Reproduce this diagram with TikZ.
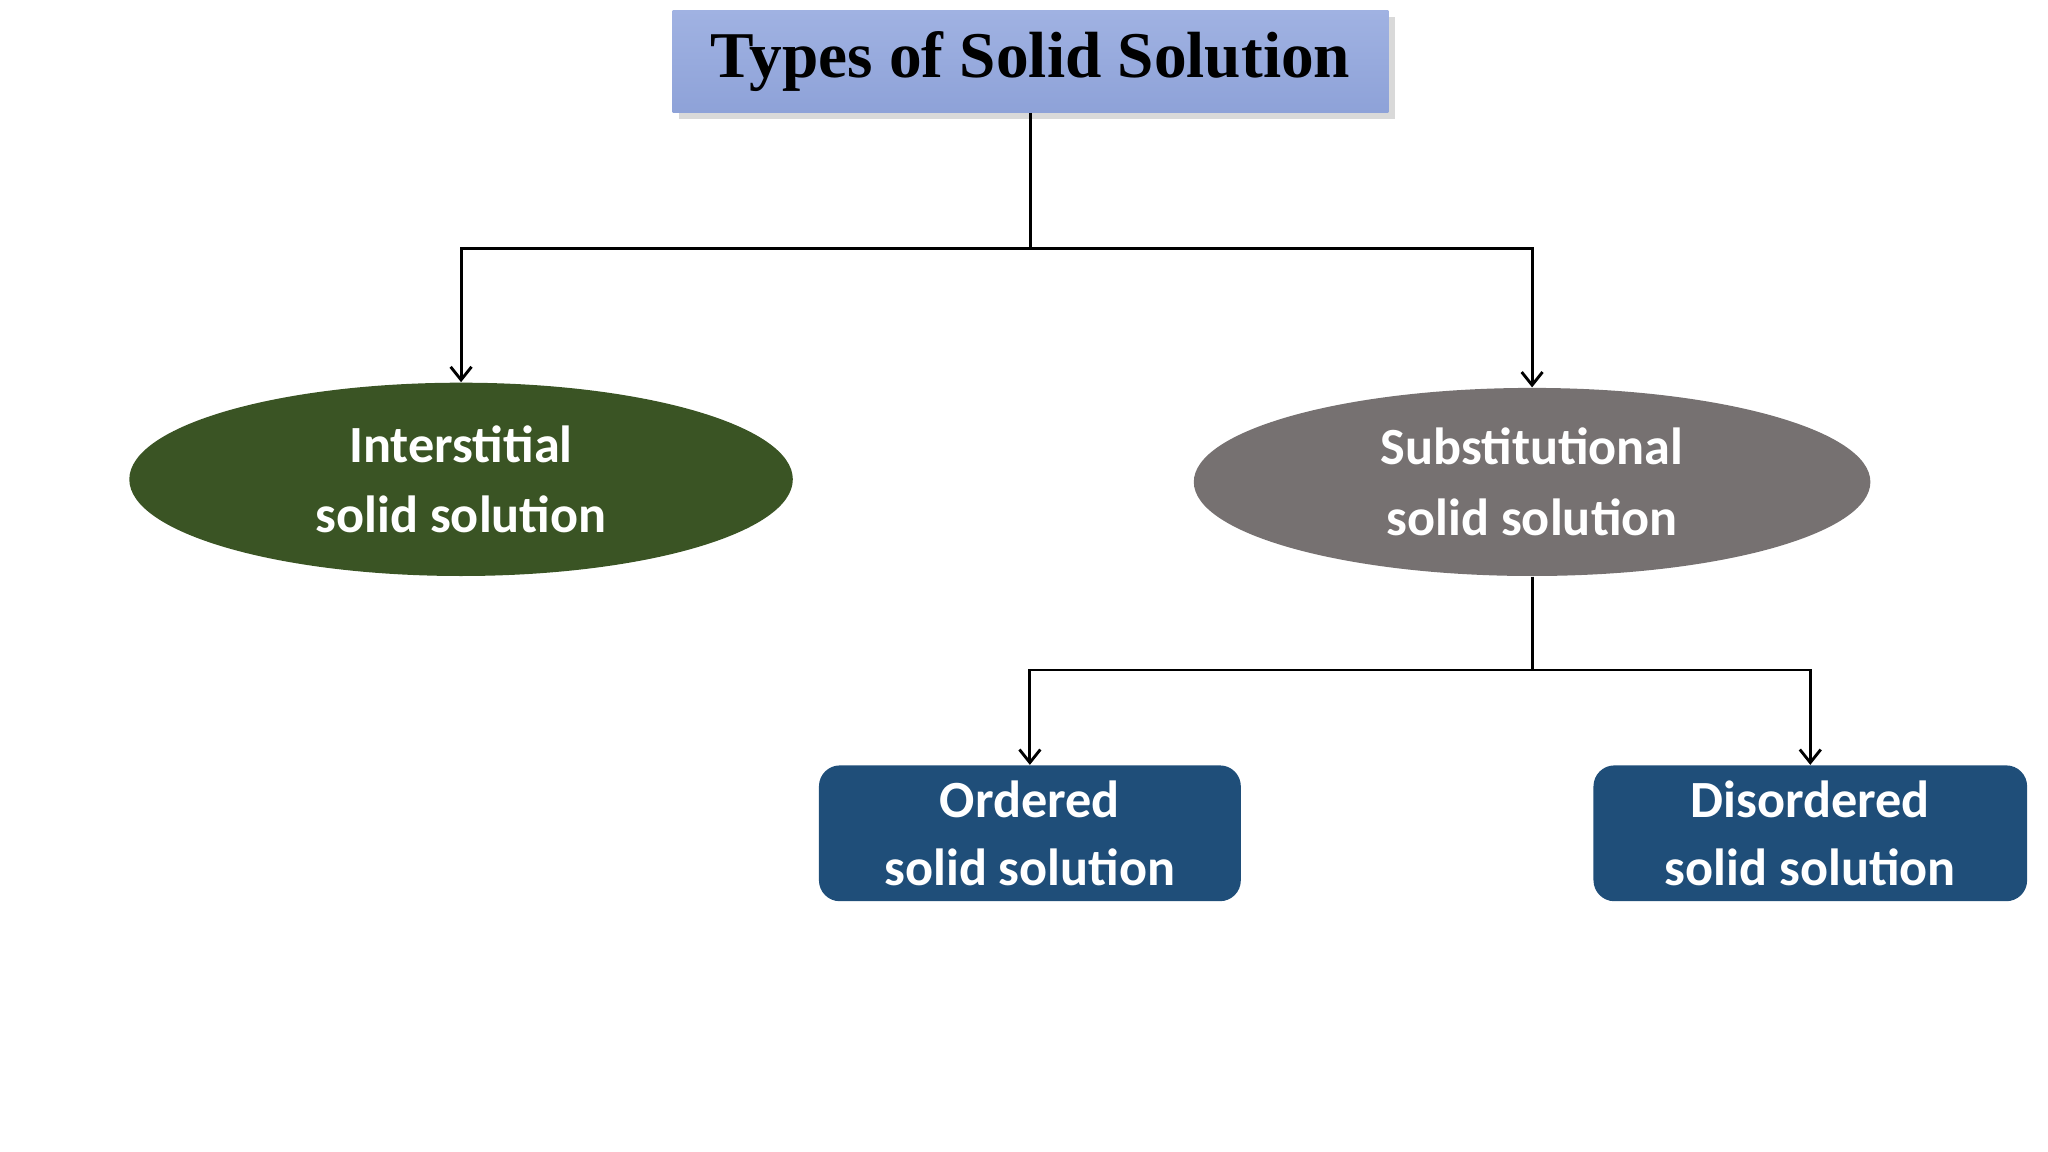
\documentclass[tikz,border=0pt]{standalone}
\usepackage{fontspec}
\setmainfont{Carlito}
\newfontfamily\titlefont{Liberation Serif}
\usetikzlibrary{shapes.geometric,arrows.meta,shadows}
\definecolor{tblue}{HTML}{A0B2E2}
\definecolor{tblue2}{HTML}{8EA2D8}
\definecolor{dgreen}{HTML}{3A5424}
\definecolor{dgray}{HTML}{767171}
\definecolor{dblue}{HTML}{1F4E79}
\begin{document}
\begin{tikzpicture}[x=0.5pt,y=-0.5pt,
  conn/.style={line width=1.1pt,black},
  arr/.style={conn,-{Straight Barb[length=5pt,width=8pt]}},
  ell/.style={ellipse,text=white,font=\fontsize{20}{27}\selectfont\bfseries,align=center,inner sep=0pt},
  box/.style={rectangle,rounded corners=8pt,fill=dblue,text=white,font=\fontsize{20}{26}\selectfont\bfseries,align=center,inner sep=0pt}]
\useasboundingbox (0,0) rectangle (1568,882);
\node[rectangle,top color=tblue,bottom color=tblue2,drop shadow={opacity=0.3},minimum width=548*0.5pt,minimum height=78*0.5pt,font=\titlefont\fontsize{25}{30}\selectfont\bfseries] (t) at (789,47) {Types of Solid Solution};
\node[ell,fill=dgreen,minimum width=508*0.5pt,minimum height=148*0.5pt] (i) at (353,367) {Interstitial\\solid solution};
\node[ell,fill=dgray,minimum width=518*0.5pt,minimum height=144*0.5pt] (s) at (1173,369) {Substitutional\\solid solution};
\node[box,minimum width=323*0.5pt,minimum height=104*0.5pt] (o) at (788.5,638) {Ordered\\solid solution};
\node[box,minimum width=332*0.5pt,minimum height=104*0.5pt] (d) at (1386,638) {Disordered\\solid solution};
\coordinate (j1) at (789,190);
\coordinate (j2) at (1173,513);
\draw[conn] (t.south) -- (j1);
\draw[arr] (j1) -| (i.north);
\draw[arr] (j1) -| (s.north);
\draw[conn] (s.south) -- (j2);
\draw[arr] (j2) -| (o.north);
\draw[arr] (j2) -| (d.north);
\end{tikzpicture}
\end{document}
